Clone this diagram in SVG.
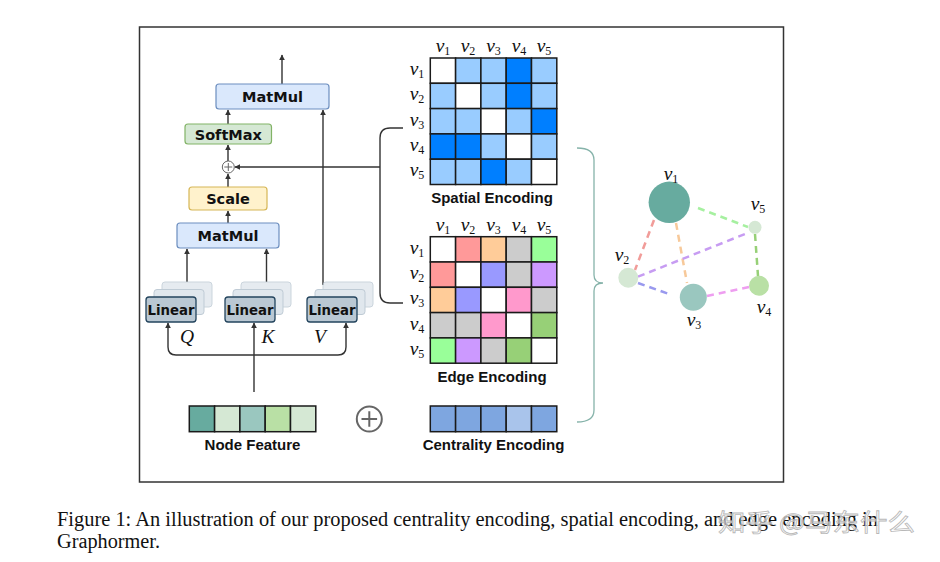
<svg xmlns="http://www.w3.org/2000/svg" width="940" height="562" viewBox="0 0 940 562">
<style>
.blk{font-family:"DejaVu Sans",Verdana,sans-serif;font-weight:bold;font-size:14.5px;fill:#111;text-anchor:middle}
.lin{font-family:"DejaVu Sans",Verdana,sans-serif;font-weight:bold;font-size:13.3px;fill:#111;text-anchor:middle}
.lbl{font-family:"Liberation Sans",Arial,sans-serif;font-weight:bold;font-size:15px;fill:#111;text-anchor:middle}
.m{font-family:"Liberation Serif","DejaVu Serif",serif;font-style:italic;font-size:19.5px;fill:#111;text-anchor:middle}
.s{font-style:normal;font-size:12px}
.cap{font-family:"Liberation Serif","Times New Roman",serif;font-size:20px;fill:#111}
.ar{fill:none;stroke:#333;stroke-width:1.4}
.cell{stroke:#1a1a1a;stroke-width:1.5}
.front{fill:#bac8d3;stroke:#23445d;stroke-width:1.3}
.back{fill:#e0e7ed;stroke:#bfcbd5;stroke-width:1}
.e{fill:none;stroke-width:2.5;stroke-dasharray:7 5}
</style>
<defs>
<marker id="ah" viewBox="0 0 10 10" refX="9" refY="5" markerWidth="6" markerHeight="6" markerUnits="userSpaceOnUse" orient="auto-start-reverse">
<path d="M0,0 L10,5 L0,10 z" fill="#333"/>
</marker>
</defs>
<rect width="940" height="562" fill="#fff"/>
<rect x="139.5" y="27" width="644" height="455" fill="none" stroke="#333" stroke-width="1.5"/>

<g id="connectors">
<path class="ar" d="M282,84 V55" marker-end="url(#ah)"/>
<path class="ar" d="M228,124 V110" marker-end="url(#ah)"/>
<path class="ar" d="M228,161 V145" marker-end="url(#ah)"/>
<path class="ar" d="M228,187 V174" marker-end="url(#ah)"/>
<path class="ar" d="M228,223 V211" marker-end="url(#ah)"/>
<path class="ar" d="M187,282 V249" marker-end="url(#ah)"/>
<path class="ar" d="M266.5,282 V249" marker-end="url(#ah)"/>
<path class="ar" d="M323,285 V110" marker-end="url(#ah)"/>
<path class="ar" d="M380,167 H235" marker-end="url(#ah)"/>
<path class="ar" d="M403,128 H390 Q380,128 380,138 V293 Q380,303 390,303 H403"/>
<path class="ar" d="M254,392 V323" marker-end="url(#ah)"/>
<path class="ar" d="M168,323 V347 Q168,355 176,355 H338 Q346,355 346,347 V323" marker-start="url(#ah)" marker-end="url(#ah)"/>
<path d="M577,148 Q594,148 594,160 V275 Q594,283 603,283 Q594,283 594,291 V410 Q594,422 577,422" fill="none" stroke="#86b3aa" stroke-width="1.3"/>
</g>

<g id="matmul-top">
<rect x="216" y="84" width="113" height="25" rx="3" fill="#dae8fc" stroke="#6c8ebf" stroke-width="1.2"/>
<text class="blk" x="272.5" y="102">MatMul</text>
</g>
<g id="softmax">
<rect x="185" y="124" width="86.5" height="20" rx="3" fill="#d5e8d4" stroke="#82b366" stroke-width="1.2"/>
<text class="blk" x="228.3" y="139.5">SoftMax</text>
</g>
<g id="add-small">
<circle cx="228.3" cy="167" r="6" fill="#fff" stroke="#666" stroke-width="1"/>
<path d="M224.3,167 H232.3 M228.3,163 V171" stroke="#666" stroke-width="1"/>
</g>
<g id="scale">
<rect x="189" y="187" width="78" height="23" rx="3" fill="#fff2cc" stroke="#d6b656" stroke-width="1.2"/>
<text class="blk" x="228" y="203.5">Scale</text>
</g>
<g id="matmul-bottom">
<rect x="177" y="223" width="102" height="25" rx="3" fill="#dae8fc" stroke="#6c8ebf" stroke-width="1.2"/>
<text class="blk" x="228" y="241">MatMul</text>
</g>

<g id="linear-q">
<rect class="back" x="162" y="282" width="50" height="25" rx="3" opacity="0.8"/>
<rect class="back" x="154" y="289.5" width="50" height="25" rx="3"/>
<rect class="front" x="146" y="297" width="50" height="25" rx="3"/>
<text class="lin" x="171" y="314.5">Linear</text>
</g>
<g id="linear-k">
<rect class="back" x="241" y="282" width="50" height="25" rx="3" opacity="0.8"/>
<rect class="back" x="233" y="289.5" width="50" height="25" rx="3"/>
<rect class="front" x="225" y="297" width="50" height="25" rx="3"/>
<text class="lin" x="250" y="314.5">Linear</text>
</g>
<g id="linear-v">
<rect class="back" x="323" y="282" width="50" height="25" rx="3" opacity="0.8"/>
<rect class="back" x="315" y="289.5" width="50" height="25" rx="3"/>
<rect class="front" x="307" y="297" width="50" height="25" rx="3"/>
<text class="lin" x="332" y="314.5">Linear</text>
</g>
<g id="qkv-labels">
<text class="m" x="187" y="343">Q</text>
<text class="m" x="268" y="343">K</text>
<text class="m" x="320" y="343">V</text>
</g>

<g id="spatial-encoding">
<g>
<rect class="cell" x="430.3" y="58" width="25.3" height="25.3" fill="#fff"/>
<rect class="cell" x="455.6" y="58" width="25.3" height="25.3" fill="#99ccff"/>
<rect class="cell" x="480.9" y="58" width="25.3" height="25.3" fill="#99ccff"/>
<rect class="cell" x="506.2" y="58" width="25.3" height="25.3" fill="#007fff"/>
<rect class="cell" x="531.5" y="58" width="25.3" height="25.3" fill="#99ccff"/>
<rect class="cell" x="430.3" y="83.3" width="25.3" height="25.3" fill="#99ccff"/>
<rect class="cell" x="455.6" y="83.3" width="25.3" height="25.3" fill="#fff"/>
<rect class="cell" x="480.9" y="83.3" width="25.3" height="25.3" fill="#99ccff"/>
<rect class="cell" x="506.2" y="83.3" width="25.3" height="25.3" fill="#007fff"/>
<rect class="cell" x="531.5" y="83.3" width="25.3" height="25.3" fill="#99ccff"/>
<rect class="cell" x="430.3" y="108.6" width="25.3" height="25.3" fill="#99ccff"/>
<rect class="cell" x="455.6" y="108.6" width="25.3" height="25.3" fill="#99ccff"/>
<rect class="cell" x="480.9" y="108.6" width="25.3" height="25.3" fill="#fff"/>
<rect class="cell" x="506.2" y="108.6" width="25.3" height="25.3" fill="#99ccff"/>
<rect class="cell" x="531.5" y="108.6" width="25.3" height="25.3" fill="#007fff"/>
<rect class="cell" x="430.3" y="133.9" width="25.3" height="25.3" fill="#007fff"/>
<rect class="cell" x="455.6" y="133.9" width="25.3" height="25.3" fill="#007fff"/>
<rect class="cell" x="480.9" y="133.9" width="25.3" height="25.3" fill="#99ccff"/>
<rect class="cell" x="506.2" y="133.9" width="25.3" height="25.3" fill="#fff"/>
<rect class="cell" x="531.5" y="133.9" width="25.3" height="25.3" fill="#99ccff"/>
<rect class="cell" x="430.3" y="159.2" width="25.3" height="25.3" fill="#99ccff"/>
<rect class="cell" x="455.6" y="159.2" width="25.3" height="25.3" fill="#99ccff"/>
<rect class="cell" x="480.9" y="159.2" width="25.3" height="25.3" fill="#007fff"/>
<rect class="cell" x="506.2" y="159.2" width="25.3" height="25.3" fill="#99ccff"/>
<rect class="cell" x="531.5" y="159.2" width="25.3" height="25.3" fill="#fff"/>
</g>
<text class="m" x="443" y="52">v<tspan class="s" dy="3">1</tspan></text>
<text class="m" x="468" y="52">v<tspan class="s" dy="3">2</tspan></text>
<text class="m" x="493.5" y="52">v<tspan class="s" dy="3">3</tspan></text>
<text class="m" x="519" y="52">v<tspan class="s" dy="3">4</tspan></text>
<text class="m" x="544" y="52">v<tspan class="s" dy="3">5</tspan></text>
<text class="m" x="417" y="75">v<tspan class="s" dy="3">1</tspan></text>
<text class="m" x="417" y="100.3">v<tspan class="s" dy="3">2</tspan></text>
<text class="m" x="417" y="125.6">v<tspan class="s" dy="3">3</tspan></text>
<text class="m" x="417" y="150.9">v<tspan class="s" dy="3">4</tspan></text>
<text class="m" x="417" y="176.2">v<tspan class="s" dy="3">5</tspan></text>
<text class="lbl" x="492" y="203">Spatial Encoding</text>
</g>

<g id="edge-encoding">
<g>
<rect class="cell" x="430.3" y="236.7" width="25.3" height="25.3" fill="#fff"/>
<rect class="cell" x="455.6" y="236.7" width="25.3" height="25.3" fill="#ff9999"/>
<rect class="cell" x="480.9" y="236.7" width="25.3" height="25.3" fill="#ffcc99"/>
<rect class="cell" x="506.2" y="236.7" width="25.3" height="25.3" fill="#cccccc"/>
<rect class="cell" x="531.5" y="236.7" width="25.3" height="25.3" fill="#99ff99"/>
<rect class="cell" x="430.3" y="262" width="25.3" height="25.3" fill="#ff9999"/>
<rect class="cell" x="455.6" y="262" width="25.3" height="25.3" fill="#fff"/>
<rect class="cell" x="480.9" y="262" width="25.3" height="25.3" fill="#9999ff"/>
<rect class="cell" x="506.2" y="262" width="25.3" height="25.3" fill="#cccccc"/>
<rect class="cell" x="531.5" y="262" width="25.3" height="25.3" fill="#cc99ff"/>
<rect class="cell" x="430.3" y="287.3" width="25.3" height="25.3" fill="#ffcc99"/>
<rect class="cell" x="455.6" y="287.3" width="25.3" height="25.3" fill="#9999ff"/>
<rect class="cell" x="480.9" y="287.3" width="25.3" height="25.3" fill="#fff"/>
<rect class="cell" x="506.2" y="287.3" width="25.3" height="25.3" fill="#ff99cc"/>
<rect class="cell" x="531.5" y="287.3" width="25.3" height="25.3" fill="#cccccc"/>
<rect class="cell" x="430.3" y="312.6" width="25.3" height="25.3" fill="#cccccc"/>
<rect class="cell" x="455.6" y="312.6" width="25.3" height="25.3" fill="#cccccc"/>
<rect class="cell" x="480.9" y="312.6" width="25.3" height="25.3" fill="#ff99cc"/>
<rect class="cell" x="506.2" y="312.6" width="25.3" height="25.3" fill="#fff"/>
<rect class="cell" x="531.5" y="312.6" width="25.3" height="25.3" fill="#97d077"/>
<rect class="cell" x="430.3" y="337.9" width="25.3" height="25.3" fill="#99ff99"/>
<rect class="cell" x="455.6" y="337.9" width="25.3" height="25.3" fill="#cc99ff"/>
<rect class="cell" x="480.9" y="337.9" width="25.3" height="25.3" fill="#cccccc"/>
<rect class="cell" x="506.2" y="337.9" width="25.3" height="25.3" fill="#97d077"/>
<rect class="cell" x="531.5" y="337.9" width="25.3" height="25.3" fill="#fff"/>
</g>
<text class="m" x="443" y="231">v<tspan class="s" dy="3">1</tspan></text>
<text class="m" x="468" y="231">v<tspan class="s" dy="3">2</tspan></text>
<text class="m" x="493.5" y="231">v<tspan class="s" dy="3">3</tspan></text>
<text class="m" x="519" y="231">v<tspan class="s" dy="3">4</tspan></text>
<text class="m" x="544" y="231">v<tspan class="s" dy="3">5</tspan></text>
<text class="m" x="417" y="253.7">v<tspan class="s" dy="3">1</tspan></text>
<text class="m" x="417" y="279">v<tspan class="s" dy="3">2</tspan></text>
<text class="m" x="417" y="304.3">v<tspan class="s" dy="3">3</tspan></text>
<text class="m" x="417" y="329.6">v<tspan class="s" dy="3">4</tspan></text>
<text class="m" x="417" y="354.9">v<tspan class="s" dy="3">5</tspan></text>
<text class="lbl" x="492" y="382">Edge Encoding</text>
</g>

<g id="node-feature">
<rect class="cell" x="189.3" y="406" width="25.3" height="25.7" fill="#67ab9f"/>
<rect class="cell" x="214.6" y="406" width="25.3" height="25.7" fill="#d5e8d4"/>
<rect class="cell" x="239.9" y="406" width="25.3" height="25.7" fill="#9ac7bf"/>
<rect class="cell" x="265.2" y="406" width="25.3" height="25.7" fill="#b9e0a5"/>
<rect class="cell" x="290.5" y="406" width="25.3" height="25.7" fill="#d5e8d4"/>
<text class="lbl" x="252.5" y="450">Node Feature</text>
</g>
<g id="add-big">
<circle cx="369.3" cy="419" r="12.5" fill="#fff" stroke="#666" stroke-width="2"/>
<path d="M361.5,419 H377.1 M369.3,411.2 V426.8" stroke="#666" stroke-width="2"/>
</g>
<g id="centrality-encoding">
<rect class="cell" x="430.3" y="406" width="25.3" height="25.7" fill="#7ea6e0"/>
<rect class="cell" x="455.6" y="406" width="25.3" height="25.7" fill="#7ea6e0"/>
<rect class="cell" x="480.9" y="406" width="25.3" height="25.7" fill="#7ea6e0"/>
<rect class="cell" x="506.2" y="406" width="25.3" height="25.7" fill="#a9c4eb"/>
<rect class="cell" x="531.5" y="406" width="25.3" height="25.7" fill="#7ea6e0"/>
<text class="lbl" x="493.5" y="450">Centrality Encoding</text>
</g>

<g id="graph-edges">
<path class="e" d="M654,220 L635,270" stroke="#f19c99"/>
<path class="e" d="M676,223 L687,283" stroke="#f7c99a"/>
<path class="e" d="M698,208 L748,227" stroke="#a6f0a0"/>
<path class="e" d="M638,276.7 L745,234" stroke="#c79cf2"/>
<path class="e" d="M638,283 L671.7,295" stroke="#9999ee"/>
<path class="e" d="M707,296 L749,287" stroke="#ee9ef0"/>
<path class="e" d="M755,234 L758,276" stroke="#97d077"/>
</g>
<g id="graph-v1"><circle cx="669.3" cy="202.3" r="20.7" fill="#67ab9f"/><text class="m" x="671" y="180">v<tspan class="s" dy="3">1</tspan></text></g>
<g id="graph-v5"><circle cx="755" cy="227.3" r="6.5" fill="#d5e8d4"/><text class="m" x="758" y="210">v<tspan class="s" dy="3">5</tspan></text></g>
<g id="graph-v2"><circle cx="628.3" cy="277.7" r="10" fill="#d5e8d4"/><text class="m" x="622" y="261">v<tspan class="s" dy="3">2</tspan></text></g>
<g id="graph-v3"><circle cx="693.3" cy="297.3" r="13.5" fill="#9ac7bf"/><text class="m" x="694" y="326">v<tspan class="s" dy="3">3</tspan></text></g>
<g id="graph-v4"><circle cx="759" cy="285.7" r="10" fill="#b9e0a5"/><text class="m" x="764" y="313">v<tspan class="s" dy="3">4</tspan></text></g>

<g id="caption">
<text class="cap" x="57" y="526" textLength="821" lengthAdjust="spacingAndGlyphs">Figure 1: An illustration of our proposed centrality encoding, spatial encoding, and edge encoding in</text>
<text class="cap" x="57" y="548" textLength="103" lengthAdjust="spacingAndGlyphs">Graphormer.</text>
<text x="718" y="531" textLength="197" lengthAdjust="spacingAndGlyphs" font-family="'Noto Sans CJK SC',sans-serif" font-size="24" fill="#ffffff" fill-opacity="0.55" stroke="#b8b8b8" stroke-width="0.8">知乎 @马东什么</text>
</g>
</svg>
